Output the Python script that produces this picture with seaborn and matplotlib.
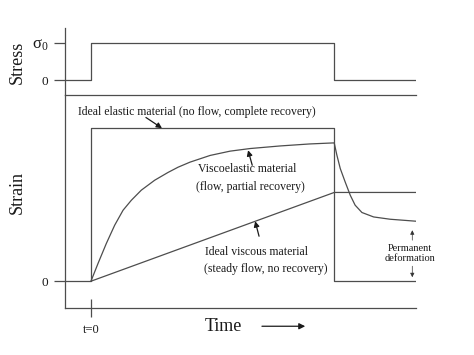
import seaborn as sns
import matplotlib.pyplot as plt
import pandas as pd

# Values (time in arbitrary units, load removed at t=10)
stress_time = [-1.07, 0, 0, 10, 10, 13.37]
stress_value = [0, 0, 1, 1, 0, 0]

elastic_time = [-1.07, 0, 0, 10, 10, 13.37]
elastic_strain = [0, 0, 1, 1, 0, 0]

viscous_time = [0, 10, 13.37]
viscous_strain = [0, 0.58, 0.58]

visco_time = [0, 0.29, 0.63, 0.975, 1.32, 1.66, 2.07, 2.62, 3.17, 3.58, 4.07, 4.90,
              5.72, 6.54, 7.78, 8.99, 10.0,
              10.11, 10.25, 10.45, 10.66, 10.86, 11.14, 11.62, 12.30, 13.37]
visco_strain = [0, 0.116, 0.246, 0.366, 0.464, 0.529, 0.595, 0.660, 0.711, 0.745,
                0.778, 0.822, 0.850, 0.867, 0.884, 0.897, 0.904,
                0.824, 0.736, 0.649, 0.562, 0.497, 0.449, 0.420, 0.405, 0.392]

stress_df = pd.DataFrame({"time": stress_time, "stress": stress_value})
elastic_df = pd.DataFrame({"time": elastic_time, "strain": elastic_strain})
viscous_df = pd.DataFrame({"time": viscous_time, "strain": viscous_strain})
visco_df = pd.DataFrame({"time": visco_time, "strain": visco_strain})

sns.set_style("white")
plt.rcParams["font.family"] = ["Liberation Serif", "DejaVu Serif"]
plt.rcParams["mathtext.fontset"] = "stix"

LINE = "#4d4d4d"
TEXT = "#1a1a1a"

fig = plt.figure(figsize=(4.74, 3.55), dpi=100)
ax1 = fig.add_axes([0.137, 0.732, 0.741, 0.189])
ax2 = fig.add_axes([0.137, 0.132, 0.741, 0.600])
ax2.patch.set_visible(False)

kw = dict(estimator=None, sort=False, color=LINE, linewidth=0.9)
sns.lineplot(data=stress_df, x="time", y="stress", ax=ax1, **kw)
sns.lineplot(data=elastic_df, x="time", y="strain", ax=ax2, **kw)
sns.lineplot(data=viscous_df, x="time", y="strain", ax=ax2, **kw)
sns.lineplot(data=visco_df, x="time", y="strain", ax=ax2, **kw)

for ax in (ax1, ax2):
    ax.set_xlim(-1.07, 13.37)
    ax.set_xlabel("")
    ax.set_ylabel("")
    ax.spines["top"].set_visible(False)
    ax.spines["right"].set_visible(False)
    for s in ("left", "bottom"):
        ax.spines[s].set_color(LINE)
        ax.spines[s].set_linewidth(0.9)

ax1.set_ylim(-0.405, 1.405)
ax2.set_ylim(-0.176, 1.216)

ax1.set_xticks([])
ax1.set_yticks([0, 1])
ax1.set_yticklabels(["0", r"$\mathregular{\sigma_0}$"])
ax1.tick_params(axis="y", left=True, direction="out", length=8, width=0.9, color=LINE,
                labelsize=9.5, pad=4, labelcolor=TEXT)
ax1.get_yticklabels()[1].set_fontsize(12)

ax2.set_yticks([0])
ax2.set_yticklabels(["0"])
ax2.tick_params(axis="y", left=True, direction="out", length=8, width=0.9, color=LINE,
                labelsize=9.5, pad=4, labelcolor=TEXT)
ax2.set_xticks([0])
ax2.set_xticklabels(["t=0"])
ax2.tick_params(axis="x", bottom=True, direction="inout", length=13, width=0.9,
                color=LINE, labelsize=9, pad=5, labelcolor=TEXT)

# axis titles
fig.text(0.036, 0.825, "Stress", rotation=90, ha="center", va="center",
         fontsize=13, color=TEXT)
fig.text(0.036, 0.459, "Strain", rotation=90, ha="center", va="center",
         fontsize=13, color=TEXT)
ax2.text(0.45, -0.085, "Time", transform=ax2.transAxes, ha="center", va="center",
         fontsize=13, color=TEXT)
ax2.annotate("", xy=(0.692, -0.085), xytext=(0.553, -0.085),
             xycoords="axes fraction", textcoords="axes fraction",
             arrowprops=dict(arrowstyle="-|>", color=TEXT, lw=0.9, mutation_scale=9),
             annotation_clip=False)

arrow = dict(arrowstyle="-|>", color=TEXT, lw=0.9, mutation_scale=8,
             shrinkA=0, shrinkB=0)
ax2.annotate("", xy=(2.92, 1.0), xytext=(2.26, 1.07), arrowprops=arrow)
ax2.text(-0.53, 1.105, "Ideal elastic material (no flow, complete recovery)",
         ha="left", va="center", fontsize=8.5, color=TEXT)

ax2.annotate("", xy=(6.46, 0.856), xytext=(6.63, 0.758), arrowprops=arrow)
ax2.text(4.40, 0.732, "Viscoelastic material", ha="left", va="center",
         fontsize=8.5, color=TEXT)
ax2.text(4.32, 0.614, "(flow, partial recovery)", ha="left", va="center",
         fontsize=8.5, color=TEXT)

ax2.annotate("", xy=(6.75, 0.392), xytext=(6.91, 0.294), arrowprops=arrow)
ax2.text(4.69, 0.19, "Ideal viscous material", ha="left", va="center",
         fontsize=8.5, color=TEXT)
ax2.text(4.65, 0.078, "(steady flow, no recovery)", ha="left", va="center",
         fontsize=8.5, color=TEXT)

# permanent deformation marker
thin = dict(arrowstyle="-|>", color="#333333", lw=0.5, mutation_scale=6,
            shrinkA=0, shrinkB=0)
ax2.annotate("", xy=(13.21, 0.333), xytext=(13.21, 0.268), arrowprops=thin)
ax2.annotate("", xy=(13.21, 0.026), xytext=(13.21, 0.098), arrowprops=thin)
ax2.text(13.13, 0.183, "Permanent\ndeformation", ha="center", va="center",
         fontsize=7.5, color=TEXT, linespacing=1.1)

fig.savefig("out.png", dpi=100)
plt.close(fig)
